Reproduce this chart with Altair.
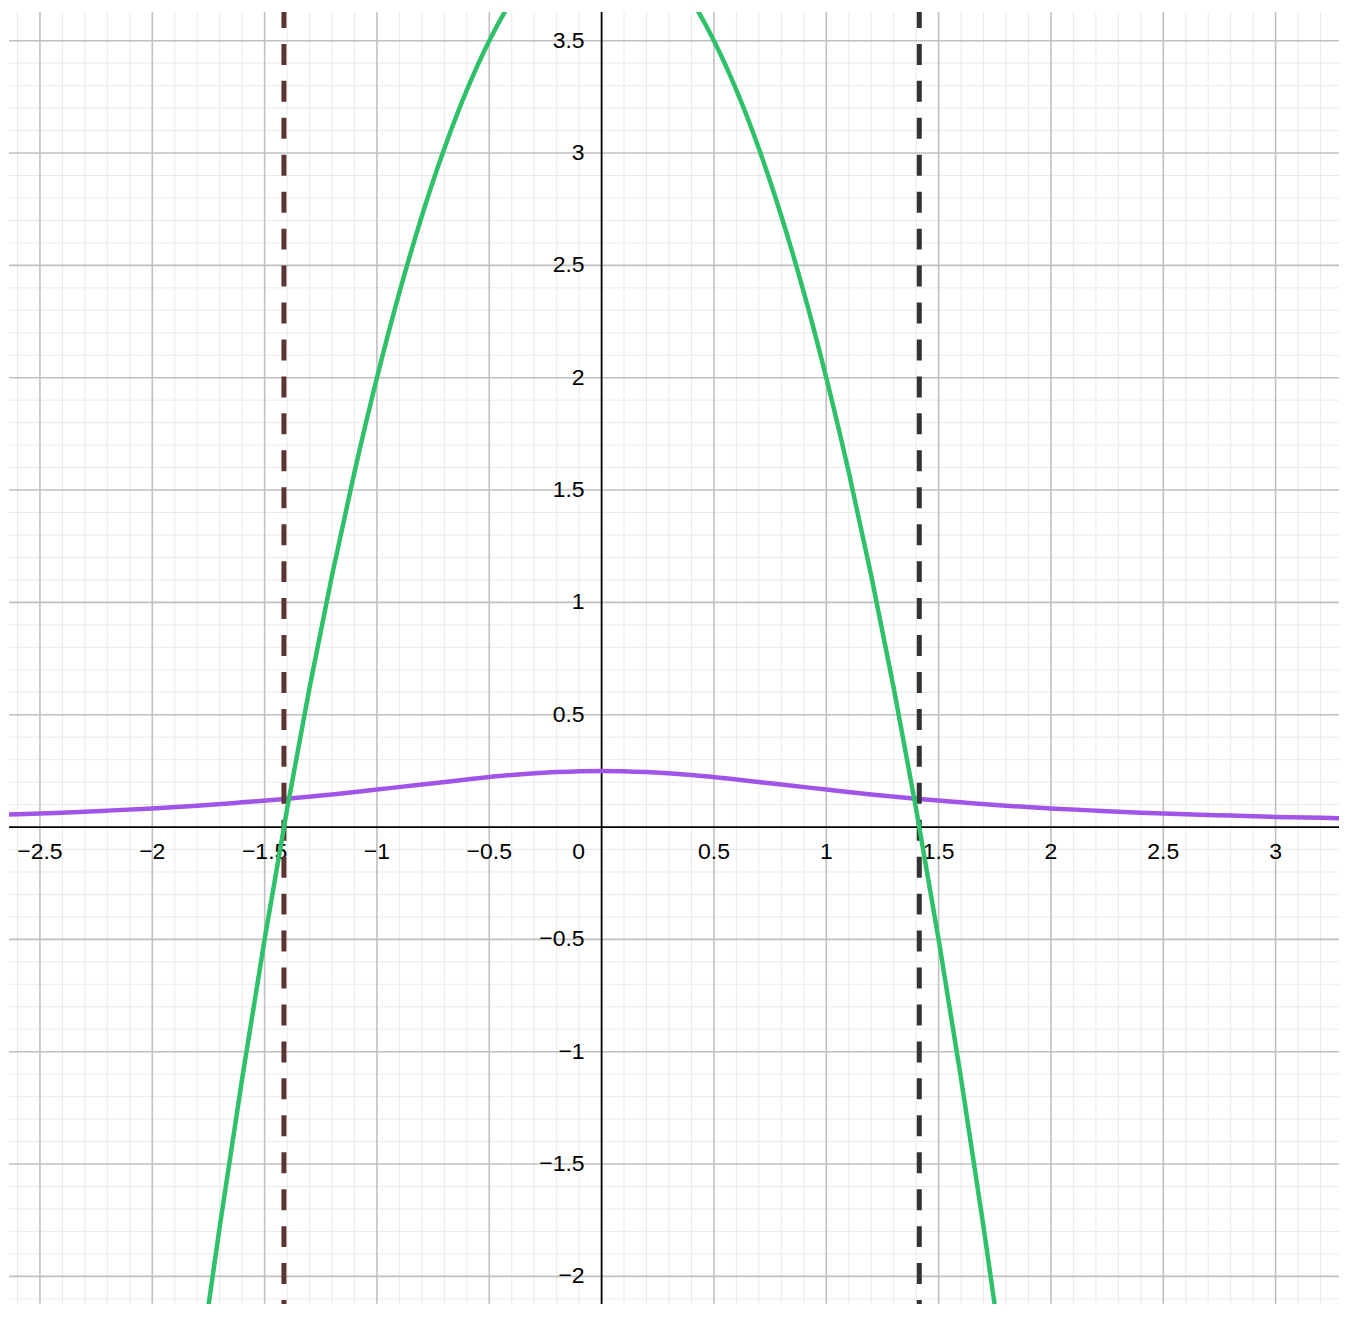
import altair as alt
import pandas as pd
import numpy as np

# ---- data ----
green_x = [-1.8, -1.7, -1.6, -1.5, -1.4, -1.3, -1.2, -1.1, -1.0, -0.9, -0.8, -0.7, -0.6, -0.5,
           -0.4, -0.3, -0.2, -0.1, 0.0, 0.1, 0.2, 0.3, 0.4, 0.5, 0.6, 0.7, 0.8, 0.9, 1.0,
           1.1, 1.2, 1.3, 1.4, 1.5, 1.6, 1.7, 1.8]
green_y = [-2.48, -1.78, -1.12, -0.50, 0.08, 0.62, 1.12, 1.58, 2.00, 2.38, 2.72, 3.02, 3.28, 3.50,
           3.68, 3.82, 3.92, 3.98, 4.00, 3.98, 3.92, 3.82, 3.68, 3.50, 3.28, 3.02, 2.72, 2.38, 2.00,
           1.58, 1.12, 0.62, 0.08, -0.50, -1.12, -1.78, -2.48]

purple_x = [-2.8, -2.6, -2.4, -2.2, -2.0, -1.8, -1.6, -1.4, -1.2, -1.0, -0.8, -0.6, -0.4, -0.2,
            0.0, 0.2, 0.4, 0.6, 0.8, 1.0, 1.2, 1.4, 1.6, 1.8, 2.0, 2.2, 2.4, 2.6, 2.8, 3.0, 3.2, 3.4]
purple_y = [0.051, 0.057, 0.064, 0.073, 0.083, 0.095, 0.110, 0.126, 0.145, 0.167, 0.189, 0.212,
            0.232, 0.245, 0.250, 0.245, 0.232, 0.212, 0.189, 0.167, 0.145, 0.126, 0.110, 0.095,
            0.083, 0.073, 0.064, 0.057, 0.051, 0.045, 0.041, 0.037]

asymptote_x = [-1.414, 1.414]
asymptote_color = ["#5c3434", "#333333"]

x_tick_values = [-2.5, -2.0, -1.5, -1.0, -0.5, 0.5, 1.0, 1.5, 2.0, 2.5, 3.0]
x_tick_labels = ["−2.5", "−2", "−1.5", "−1", "−0.5", "0.5", "1", "1.5", "2", "2.5", "3"]
y_tick_values = [-2.0, -1.5, -1.0, -0.5, 0.5, 1.0, 1.5, 2.0, 2.5, 3.0, 3.5]
y_tick_labels = ["−2", "−1.5", "−1", "−0.5", "0.5", "1", "1.5", "2", "2.5", "3", "3.5"]

# ---- view ----
W, H = 1332, 1294
PX = 225.0
x0_px, y0_px = 601.5 - 8, 824.3 - 8
XMIN, XMAX = -x0_px / PX, (W - x0_px) / PX
YMAX, YMIN = y0_px / PX, -(H - y0_px) / PX

xs = alt.Scale(domain=[XMIN, XMAX], nice=False, zero=False)
ys = alt.Scale(domain=[YMIN, YMAX], nice=False, zero=False)

fine = np.round(np.arange(-2.7, 3.41, 0.1), 2)
minor_x = [v for v in fine if XMIN <= v <= XMAX and abs(v * 2 - round(v * 2)) > 1e-6]
minor_y = [v for v in fine if YMIN <= v <= YMAX and abs(v * 2 - round(v * 2)) > 1e-6]
half = np.round(np.arange(-3.0, 4.01, 0.5), 2)
major_x = [v for v in half if XMIN <= v <= XMAX and v != 0]
major_y = [v for v in half if YMIN <= v <= YMAX and v != 0]

def vrules(vals, color, width):
    return alt.Chart(pd.DataFrame({"v": vals})).mark_rule(color=color, strokeWidth=width).encode(
        x=alt.X("v:Q", scale=xs, axis=None))

def hrules(vals, color, width):
    return alt.Chart(pd.DataFrame({"v": vals})).mark_rule(color=color, strokeWidth=width).encode(
        y=alt.Y("v:Q", scale=ys, axis=None))

minor = vrules(minor_x, "#eaeaea", 1) + hrules(minor_y, "#eaeaea", 1)
major = vrules(major_x, "#c0c0c0", 1.6) + hrules(major_y, "#c0c0c0", 1.6)
axes = vrules([0.0], "#000000", 1.8) + hrules([0.0], "#000000", 1.8)

FS = 23
xlab = alt.Chart(pd.DataFrame({"x": x_tick_values, "t": x_tick_labels, "y": 0.0})).mark_text(
    font="Liberation Sans", fontSize=FS, color="#000000", align="center", baseline="middle", dy=25
).encode(x=alt.X("x:Q", scale=xs, axis=None), y=alt.Y("y:Q", scale=ys, axis=None), text="t:N")

zlab = alt.Chart(pd.DataFrame({"x": [0.0], "t": ["0"], "y": [0.0]})).mark_text(
    font="Liberation Sans", fontSize=FS, color="#000000", align="center", baseline="middle", dy=25, dx=-23
).encode(x=alt.X("x:Q", scale=xs, axis=None), y=alt.Y("y:Q", scale=ys, axis=None), text="t:N")

ylab = alt.Chart(pd.DataFrame({"y": y_tick_values, "t": y_tick_labels, "x": 0.0})).mark_text(
    font="Liberation Sans", fontSize=FS, color="#000000", align="right", baseline="middle", dx=-17
).encode(x=alt.X("x:Q", scale=xs, axis=None), y=alt.Y("y:Q", scale=ys, axis=None), text="t:N")

purple = alt.Chart(pd.DataFrame({"x": purple_x, "y": purple_y})).mark_line(
    color="#a155e8", strokeWidth=4.5, interpolate="monotone", clip=True
).encode(x=alt.X("x:Q", scale=xs, axis=None), y=alt.Y("y:Q", scale=ys, axis=None), order="x:Q")

dashed = alt.Chart(pd.DataFrame({"x": asymptote_x, "c": asymptote_color})).mark_rule(
    strokeWidth=5, strokeDash=[21, 16], strokeDashOffset=5
).encode(x=alt.X("x:Q", scale=xs, axis=None), y=alt.value(0), y2=alt.value(H),
         color=alt.Color("c:N", scale=None, legend=None))

green = alt.Chart(pd.DataFrame({"x": green_x, "y": green_y})).mark_line(
    color="#2ec16a", strokeWidth=4.5, interpolate="monotone", clip=True
).encode(x=alt.X("x:Q", scale=xs, axis=None), y=alt.Y("y:Q", scale=ys, axis=None), order="x:Q")

chart = alt.layer(minor, major, axes, xlab, zlab, ylab, purple, dashed, green).properties(
    width=W, height=H, padding=0, background="white"
).configure_view(stroke=None)

chart.save("out.html", embed_options={"renderer": "svg", "actions": False})
